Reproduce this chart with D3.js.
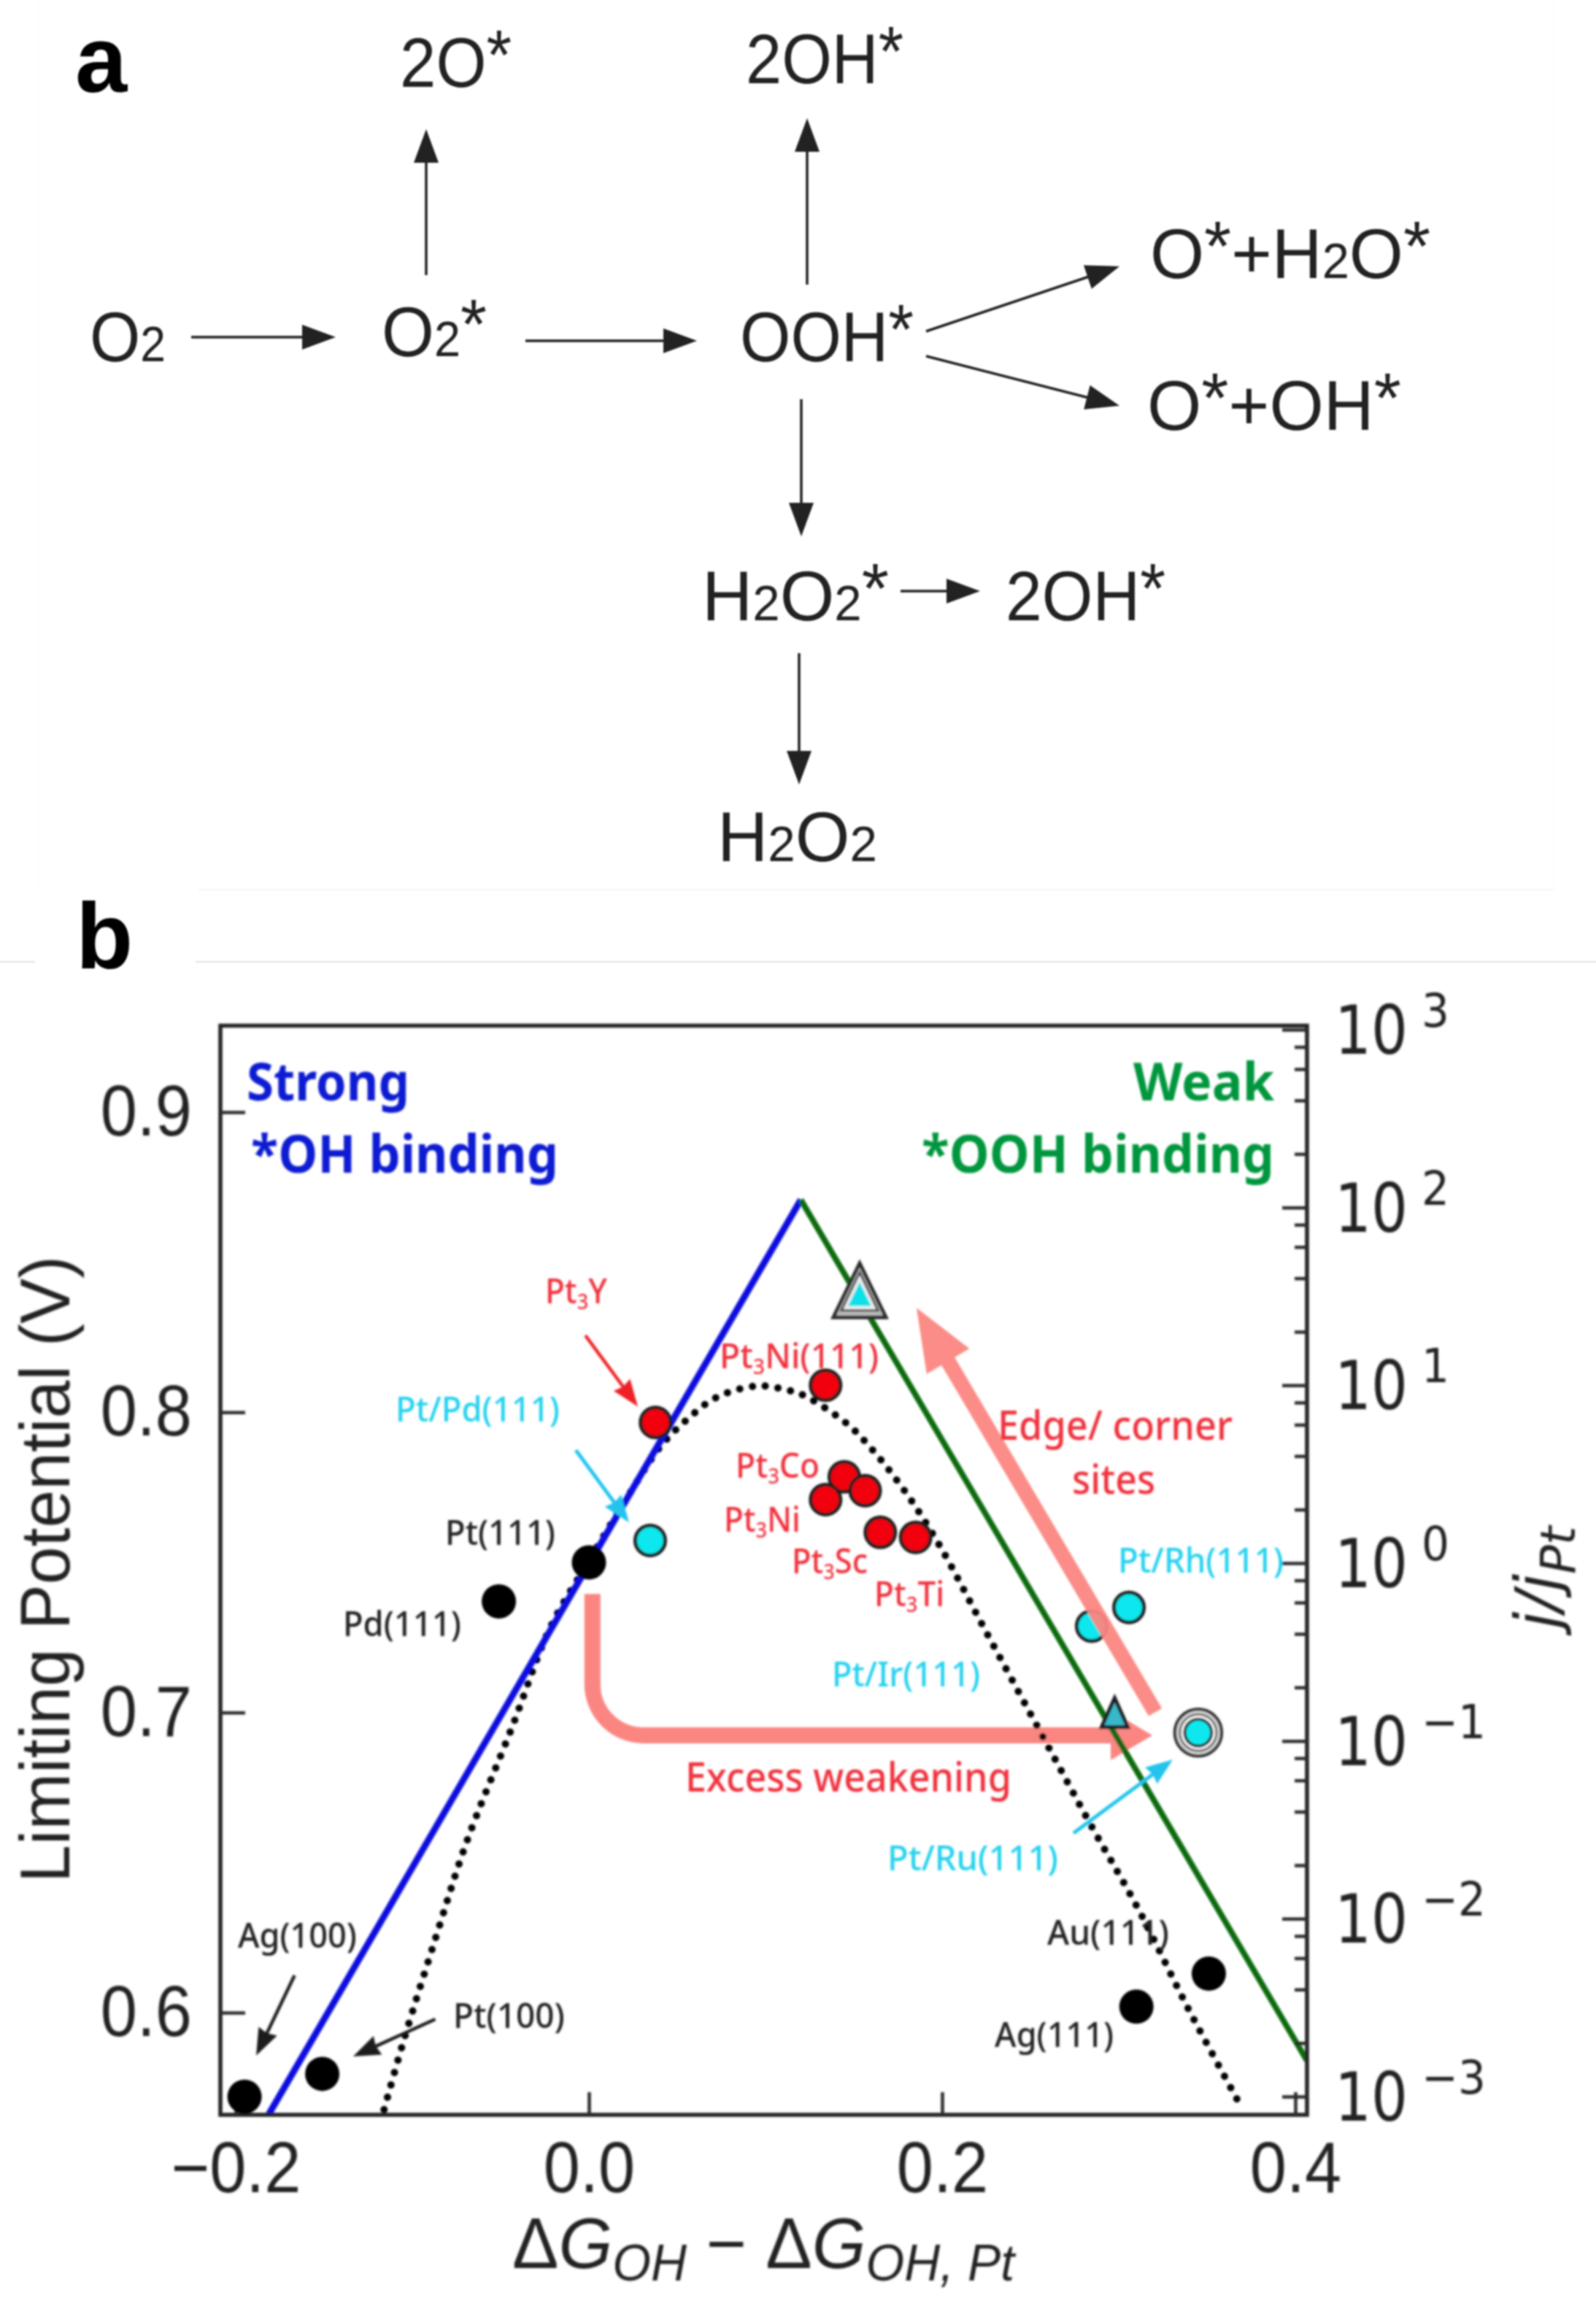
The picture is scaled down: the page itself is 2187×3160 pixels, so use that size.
<!DOCTYPE html>
<html><head><meta charset="utf-8">
<script src="https://cdn.jsdelivr.net/npm/d3@7"></script>
<style>html,body{margin:0;background:#fff}svg{display:block}</style></head>
<body><svg id="c" width="2187" height="3160"></svg>
<script>
// ---------- data: panel a ----------
const nodeLabels = ["2O*","2OH*","O2","O2*","OOH*","O*+H2O*","O*+OH*","H2O2*","2OH*","H2O2"];
const nodeEdges = [[2,3],[3,0],[3,4],[4,1],[4,5],[4,6],[4,7],[7,8],[7,9]];
// ---------- data: panel b ----------
const xTicks = [-0.2,0,0.2,0.4];
const yTicks = [0.6,0.7,0.8,0.9];
const rightExponents = [-3,-2,-1,0,1,2,3];
const minorMultipliers = [2,4,6,8];
const blueLineX = [-0.1814,0.12], blueLineY = [0.566,0.8708];
const greenLineX = [0.12,0.4066], greenLineY = [0.8708,0.584];
const curveX = [-0.116,-0.1045,-0.087,-0.0696,-0.0434,-0.0219,0.0,0.02,0.0405,0.055,0.0723,0.0957,0.113,0.1204,0.1455,0.161,0.18,0.1986,0.2236,0.258,0.2847,0.311,0.3393,0.369];
const curveY = [0.5677,0.5915,0.6245,0.6563,0.6953,0.7283,0.7505,0.770,0.7886,0.7973,0.805,0.8088,0.8073,0.806,0.7965,0.7872,0.7728,0.7556,0.7283,0.6909,0.662,0.6346,0.6014,0.569];
const blackX = [-0.195,-0.151,-0.051,0.0,0.351,0.310];
const blackY = [0.572,0.5796,0.737,0.75,0.613,0.602];
const redX = [0.0377,0.134,0.1446,0.1564,0.134,0.165,0.185];
const redY = [0.7966,0.809,0.7785,0.7739,0.7709,0.760,0.7583];
const cyanX = [0.0347,0.3058,0.2847];
const cyanY = [0.7573,0.735,0.7288];
const ringX = [0.345], ringY = [0.6933];
const triX = [0.1533,0.2977], triY = [0.8392,0.6988];
const blackLabels = ["Pt(111)","Pd(111)","Ag(100)","Pt(100)","Au(111)","Ag(111)"];
const blackLabelX = [-0.0814,-0.1393,-0.1988,-0.0769,0.2595,0.2298];
const blackLabelY = [0.7558,0.7254,0.6216,0.5949,0.6226,0.5886];
const redLabels = ["Pt3Y","Pt3Ni(111)","Pt3Co","Pt3Ni","Pt3Sc","Pt3Ti","Edge/ corner","sites","Excess weakening"];
const redLabelX = [-0.0248,0.074,0.0831,0.0764,0.1149,0.1616,0.2314,0.2736,0.0545];
const redLabelY = [0.8363,0.8146,0.7782,0.7602,0.7463,0.7354,0.7908,0.7728,0.6737];
const cyanLabels = ["Pt/Pd(111)","Pt/Rh(111)","Pt/Ir(111)","Pt/Ru(111)"];
const cyanLabelX = [-0.1095,0.2996,0.1376,0.169];
const cyanLabelY = [0.7969,0.7466,0.7087,0.6474];
// annotation arrows, data space: x1,y1,x2,y2
const blackArrows = [[-0.1667,0.6124,-0.1884,0.5857],[-0.087,0.5978,-0.1335,0.5854]];
const redArrows = [[-0.002,0.8256,0.0277,0.8019]];
const cyanArrows = [[-0.0074,0.7874,0.0227,0.7633],[0.2744,0.6598,0.3306,0.6843]];
const edgeArrow = [0.3207,0.7001,0.1855,0.8348];
const excessArrow = {x0:0.002,y0:0.7395,yH:0.6924,x1:0.319};

// ---------- layout & styles (separate from data) ----------
const nodeLayout = [[548,119,153],[1022,114,216],[123,495,104],[523,488,144],[1014,495,238],[1576,381,384],[1572,589,348],[962,850,256],[1378,850,219],[983,1180,219]];
const edgeLayout = [[262,462,460,462],[584,377,584,177],[720,467,955,467],[1106,390,1106,162],[1269,454,1534,365],[1269,488,1534,556],[1098,547,1098,735],[1234,810,1343,810],[1095,895,1095,1075]];
const blackLen=[151,162,163,153,167,163], redLen=[85,218,115,105,104,96,322,114,447], cyanLen=[225,227,203,234];
const M={l:302,r:1791,t:1405.5,b:2898};
const LIB='"Liberation Sans",Arial,sans-serif', NOTO='"Noto Sans",sans-serif', DV='"DejaVu Sans",sans-serif';
const ink='#222', pink='#fb8681', RED='#f0303c', CY='#28d2f0';

const x=d3.scaleLinear().domain([-0.2,0.4]).range([323,1775]);
const y=d3.scaleLinear().domain([0.6,0.9]).range([2758,1524]);
const yR=d3.scaleLog().domain([1e-3,1e3]).range([2873,1411]);

const svg=d3.select('#c');
const defs=svg.append('defs');
defs.append('filter').attr('id','blurA').append('feGaussianBlur').attr('stdDeviation',0.9);
defs.append('filter').attr('id','blurB').append('feGaussianBlur').attr('stdDeviation',1.5);
defs.append('clipPath').attr('id','plot').append('rect').attr('x',M.l).attr('y',M.t).attr('width',M.r-M.l).attr('height',M.b-M.t);

function arrow(g,x1,y1,x2,y2,o){
  const a=Math.atan2(y2-y1,x2-x1),c=Math.cos(a),s=Math.sin(a);
  const bx=x2-c*o.hl,by=y2-s*o.hl;
  g.append('line').attr('x1',x1).attr('y1',y1).attr('x2',bx+c*2).attr('y2',by+s*2)
    .attr('stroke',o.color).attr('stroke-width',o.w);
  const back=o.notch||0;
  g.append('path').attr('d',d3.line()([[x2,y2],[bx-c*back-s*o.hw,by-s*back+c*o.hw],[bx,by],[bx-c*back+s*o.hw,by-s*back-c*o.hw]])+'Z').attr('fill',o.color);
}

// ---------- faint page furniture ----------
const bg=svg.append('g');
[[0,1318,48,1318,'#eee'],[268,1318,2187,1318,'#eee'],[272,1219,2130,1219,'#f9f9f9'],[53,0,53,1219,'#fdfdfd'],[2130,0,2130,1219,'#fdfdfd']]
 .forEach(l=>bg.append('line').attr('x1',l[0]).attr('y1',l[1]).attr('x2',l[2]).attr('y2',l[3]).attr('stroke',l[4]).attr('stroke-width',3));

// ---------- panel a ----------
const A=svg.append('g').attr('filter','url(#blurA)');
A.append('text').text('a').attr('x',103).attr('y',126).attr('font-family',LIB).attr('font-weight',700).attr('font-size',128).attr('fill','#000');
A.append('text').text('b').attr('x',104).attr('y',1327).attr('font-family',LIB).attr('font-weight',700).attr('font-size',128).attr('fill','#000');
nodeLabels.forEach((lab,i)=>{
  const [lx,ly,len]=nodeLayout[i];
  const t=A.append('text').attr('x',lx).attr('y',ly).attr('font-family',LIB).attr('font-size',97).attr('fill',ink)
    .attr('textLength',len).attr('lengthAdjust','spacingAndGlyphs');
  let pending=0;
  [...lab].forEach((ch,k)=>{
    const ts=t.append('tspan').text(ch);
    let dy=-pending; pending=0;
    if(ch==='*'){dy-=10;pending=-10;}
    else if(/\d/.test(ch)&&k>0&&/[A-Z]/.test(lab[k-1])) ts.attr('font-size',68);
    if(dy) ts.attr('dy',dy);
  });
});
nodeEdges.forEach((e,i)=>{const L=edgeLayout[i];arrow(A,L[0],L[1],L[2],L[3],{hl:46,hw:17,w:3.5,color:ink});});

// ---------- panel b ----------
const B=svg.append('g').attr('filter','url(#blurB)');
const p=d3.path(), ex=excessArrow, hx=x(ex.x1)-57, yh=y(ex.yH);
p.moveTo(x(ex.x0),y(ex.y0)); p.arcTo(x(ex.x0),yh,x(ex.x0)+70,yh,70); p.lineTo(hx+2,yh);
B.append('path').attr('d',p.toString()).attr('fill','none').attr('stroke',pink).attr('stroke-width',22);
B.append('path').attr('d',d3.line()([[x(ex.x1),yh],[hx,yh-34],[hx,yh+34]])+'Z').attr('fill',pink);

const plot=B.append('g').attr('clip-path','url(#plot)');
const pts=(X,Y)=>X.map((v,i)=>[x(v),y(Y[i])]);
plot.append('path').attr('d',d3.line().curve(d3.curveCatmullRom)(pts(curveX,curveY))).attr('fill','none')
  .attr('stroke','#000').attr('stroke-width',10).attr('stroke-linecap','round').attr('stroke-dasharray','0.1 17.5');
plot.append('path').attr('d',d3.line()(pts(blueLineX,blueLineY))).attr('fill','none').attr('stroke','#0a10e0').attr('stroke-width',9);
plot.append('path').attr('d',d3.line()(pts(greenLineX,greenLineY))).attr('fill','none').attr('stroke','#086a10').attr('stroke-width',8);

B.append('rect').attr('x',M.l).attr('y',M.t).attr('width',M.r-M.l).attr('height',M.b-M.t).attr('fill','none').attr('stroke','#222').attr('stroke-width',5.5);
function styleAxis(g){g.select('.domain').remove();g.selectAll('line').attr('stroke','#2a2a2a').attr('stroke-width',4.5);
  g.selectAll('text').attr('font-family',LIB).attr('font-size',98).attr('fill',ink).attr('lengthAdjust','spacingAndGlyphs')
   .each(function(){d3.select(this).attr('textLength',this.getComputedTextLength()*0.92);});}
B.append('g').attr('transform',`translate(${M.l},0)`)
  .call(d3.axisLeft(y).tickValues(yTicks).tickSize(-34).tickPadding(39).tickFormat(d3.format('.1f'))).call(styleAxis);
B.append('g').attr('transform',`translate(0,${M.b})`)
  .call(d3.axisBottom(x).tickValues(xTicks).tickSize(-31).tickPadding(36).tickFormat(d3.format('.1f'))).call(styleAxis);
const majors=rightExponents.map(e=>Math.pow(10,e));
const minors=[];rightExponents.slice(0,-1).forEach(e=>minorMultipliers.forEach(m=>minors.push(m*Math.pow(10,e))));
B.append('g').attr('transform',`translate(${M.r},0)`).call(d3.axisLeft(yR).tickValues(majors).tickSize(34).tickFormat('')).call(styleAxis);
B.append('g').attr('transform',`translate(${M.r},0)`).call(d3.axisLeft(yR).tickValues(minors).tickSize(17).tickFormat('')).call(styleAxis);
rightExponents.forEach(e=>{
  const py=yR(Math.pow(10,e));
  B.append('text').text('10').attr('x',1829).attr('y',py+33).attr('font-family',DV).attr('font-size',93).attr('fill',ink)
    .attr('textLength',100).attr('lengthAdjust','spacingAndGlyphs');
  const s=e<0?'\u2212'+(-e):''+e;
  B.append('text').text(s).attr('x',1948).attr('y',py-4).attr('font-family',DV).attr('font-size',64).attr('fill',ink)
    .attr('textLength',e<0?88:38).attr('lengthAdjust','spacingAndGlyphs');
});

B.append('text').text('Limiting Potential (V)').attr('transform','translate(95,2580) rotate(-90)')
  .attr('font-family',LIB).attr('font-size',97).attr('fill',ink).attr('textLength',859).attr('lengthAdjust','spacingAndGlyphs');
// x title as one text
const xl=B.append('text').attr('x',702).attr('y',3108).attr('font-family',LIB).attr('font-size',98).attr('fill',ink)
  .attr('textLength',688).attr('lengthAdjust','spacingAndGlyphs').attr('xml:space','preserve').style('white-space','pre');
xl.append('tspan').text('\u0394');
xl.append('tspan').text('G').attr('font-style','italic');
xl.append('tspan').text('OH').attr('font-style','italic').attr('font-size',70).attr('dy',17);
xl.append('tspan').text(' \u2212 ').attr('dy',-17);
xl.append('tspan').text('\u0394');
xl.append('tspan').text('G').attr('font-style','italic');
xl.append('tspan').text('OH, Pt').attr('font-style','italic').attr('font-size',70).attr('dy',17);
const rt=B.append('text').attr('transform','translate(2136,2232) rotate(-90)').attr('font-family',DV).attr('font-style','italic').attr('fill',ink).attr('font-size',84);
rt.append('tspan').text('j/j');
rt.append('tspan').text('Pt').attr('font-size',66).attr('dy',22);

const circ=(X,Y,r,fill,stroke,sw,par)=>X.forEach((v,i)=>(par||B).append('circle').attr('cx',x(v)).attr('cy',y(Y[i])).attr('r',r).attr('fill',fill).attr('stroke',stroke).attr('stroke-width',sw));
circ(cyanX,cyanY,20.5,'#10e8ee','#1c1c1c',5);
circ(redX,redY,20.5,'#f2060c','#1c1c1c',5);
circ(blackX,blackY,23.5,'#000','none',0);
circ(ringX,ringY,32,'#ddd','#333',4.5);
circ(ringX,ringY,25,'#fff','#555',3);
circ(ringX,ringY,18.5,'#10e8ee','#222',4);

(()=>{const e=edgeArrow;const o={hl:85,hw:34,w:21,color:pink};
 const g=B.append('g').attr('opacity',0.95);arrow(g,x(e[0]),y(e[1]),x(e[2]),y(e[3]),o);})();

function tri(cx,cy,w,h){return d3.line()([[cx,cy-h*0.62],[cx+w/2,cy+h*0.38],[cx-w/2,cy+h*0.38]])+'Z';}
const tx0=x(triX[0]),ty0=y(triY[0]),tx1=x(triX[1]),ty1=y(triY[1]);
B.append('path').attr('d',tri(tx0,ty0+3,72,74)).attr('fill','#bbb').attr('stroke','#2a2a2a').attr('stroke-width',5);
B.append('path').attr('d',tri(tx0,ty0+2,50,52)).attr('fill','#eee').attr('stroke','#444').attr('stroke-width',3);
B.append('path').attr('d',tri(tx0,ty0+3,32,33)).attr('fill','#10e0e8');
B.append('path').attr('d',tri(tx1,ty1,36,40)).attr('fill','#38b8c8').attr('stroke','#1c1c1c').attr('stroke-width',5);

const small=(list,color,w)=>list.forEach(a=>arrow(B,x(a[0]),y(a[1]),x(a[2]),y(a[3]),{hl:34,hw:14,w,color,notch:3}));
small(blackArrows,'#1a1a1a',4.5);small(redArrows,'#ee2228',4.5);small(cyanArrows,'#22c4ee',5);

function label(s,px,py,size,color,len,weight,anchor){
  const t=B.append('text').attr('x',px).attr('y',py).attr('font-family',NOTO).attr('font-size',size).attr('fill',color)
    .attr('font-weight',weight||400).attr('text-anchor',anchor||'start');
  if(len)t.attr('textLength',len).attr('lengthAdjust','spacingAndGlyphs');
  const m=s.match(/^(Pt)(3)(.*)$/);
  if(m){t.append('tspan').text(m[1]);t.append('tspan').text(m[2]).attr('font-size',size*0.62).attr('dy',8);t.append('tspan').text(m[3]).attr('dy',-8);}
  else t.text(s);
}
blackLabels.forEach((s,i)=>label(s,x(blackLabelX[i]),y(blackLabelY[i]),48,'#222',blackLen[i],500));
redLabels.forEach((s,i)=>label(s,x(redLabelX[i]),y(redLabelY[i]),i>5?56:48,RED,redLen[i],500));
cyanLabels.forEach((s,i)=>label(s,x(cyanLabelX[i]),y(cyanLabelY[i]),48,CY,cyanLen[i],500));
label('Strong',x(-0.1938),y(0.9038),72,'#0d1ad2',223,700);
label('*OH binding',x(-0.1913),y(0.8798),72,'#0d1ad2',421,700);
label('Weak',x(0.388),y(0.9038),72,'#00963e',193,700,'end');
label('*OOH binding',x(0.388),y(0.8798),72,'#00963e',483,700,'end');
</script></body></html>
